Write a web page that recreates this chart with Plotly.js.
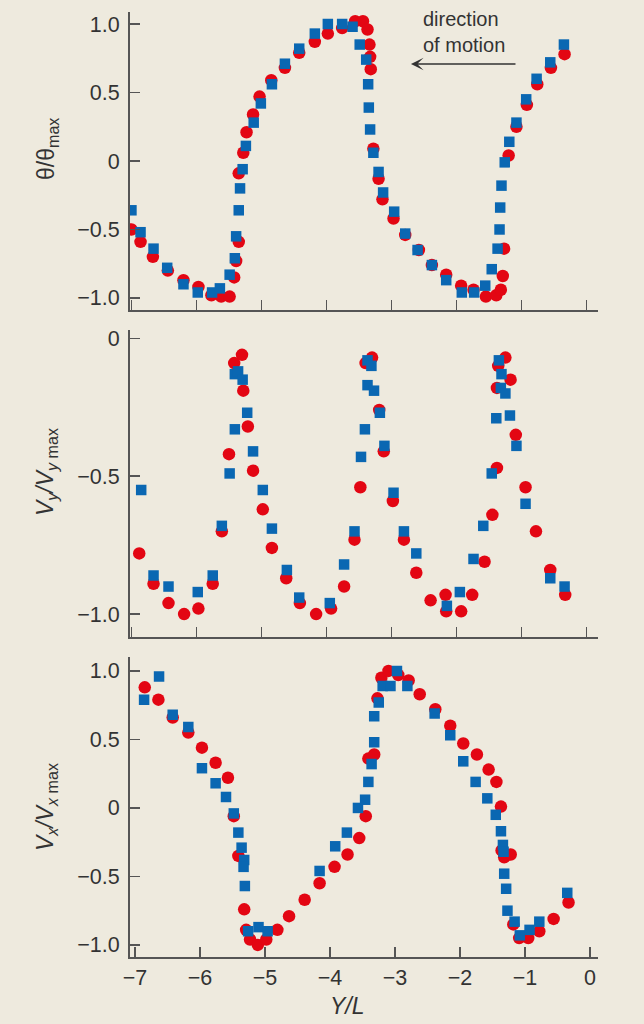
<!DOCTYPE html>
<html>
<head>
<meta charset="utf-8">
<script src="https://cdn.plot.ly/plotly-3.0.1.min.js"></script>
<style>html,body{margin:0;padding:0;background:#eeeade;}#chart{width:644px;height:1024px;}</style>
</head>
<body>
<div id="chart"></div>
<script>
// ---- Panel 1: theta / theta_max ----
var thetaRedX = [-7.0,-6.86,-6.67,-6.44,-6.20,-5.97,-5.77,-5.62,-5.49,-5.42,-5.39,-5.35,-5.35,-5.28,-5.23,-5.13,-5.03,-4.85,-4.64,-4.42,-4.18,-3.98,-3.76,-3.56,-3.44,-3.37,-3.34,-3.33,-3.32,-3.28,-3.20,-3.14,-2.97,-2.79,-2.58,-2.38,-2.16,-1.93,-1.74,-1.55,-1.39,-1.32,-1.29,-1.27,-1.20,-1.08,-0.92,-0.76,-0.55,-0.34];
var thetaRedY = [-0.50,-0.59,-0.70,-0.80,-0.87,-0.92,-0.98,-0.99,-0.99,-0.85,-0.73,-0.59,-0.09,0.06,0.21,0.34,0.47,0.59,0.68,0.79,0.87,0.93,0.97,1.02,1.02,0.96,0.85,0.76,0.67,0.09,-0.13,-0.28,-0.42,-0.54,-0.65,-0.76,-0.83,-0.91,-0.94,-0.99,-0.98,-0.94,-0.84,-0.64,0.04,0.25,0.41,0.56,0.68,0.78];
var thetaBlueX = [-7.0,-6.86,-6.66,-6.45,-6.20,-5.98,-5.76,-5.64,-5.49,-5.41,-5.39,-5.35,-5.33,-5.29,-5.24,-5.12,-5.01,-4.84,-4.64,-4.42,-4.18,-3.98,-3.76,-3.60,-3.49,-3.39,-3.36,-3.35,-3.33,-3.28,-3.20,-3.13,-2.96,-2.79,-2.60,-2.38,-2.16,-1.92,-1.73,-1.56,-1.46,-1.37,-1.34,-1.33,-1.31,-1.26,-1.19,-1.08,-0.93,-0.77,-0.56,-0.35];
var thetaBlueY = [-0.36,-0.52,-0.64,-0.78,-0.90,-0.96,-0.96,-0.93,-0.83,-0.71,-0.55,-0.36,-0.20,-0.06,0.11,0.28,0.42,0.56,0.71,0.82,0.93,1.00,1.00,0.98,0.85,0.74,0.56,0.39,0.23,0.06,-0.08,-0.23,-0.37,-0.53,-0.65,-0.76,-0.87,-0.96,-0.96,-0.91,-0.79,-0.64,-0.50,-0.34,-0.18,-0.01,0.14,0.28,0.45,0.60,0.72,0.85];

// ---- Panel 2: Vy / Vy_max ----
var vyRedX = [-6.88,-6.66,-6.43,-6.19,-5.97,-5.75,-5.61,-5.50,-5.42,-5.30,-5.28,-5.21,-5.13,-4.98,-4.84,-4.62,-4.41,-4.16,-3.93,-3.73,-3.57,-3.48,-3.40,-3.30,-3.19,-3.12,-2.98,-2.81,-2.62,-2.40,-2.17,-2.16,-1.93,-1.76,-1.57,-1.45,-1.38,-1.38,-1.36,-1.25,-1.17,-1.09,-0.94,-0.78,-0.56,-0.33];
var vyRedY = [-0.78,-0.89,-0.96,-1.00,-0.98,-0.89,-0.70,-0.42,-0.09,-0.06,-0.19,-0.32,-0.48,-0.62,-0.76,-0.87,-0.96,-1.00,-0.98,-0.90,-0.73,-0.54,-0.09,-0.07,-0.26,-0.41,-0.59,-0.73,-0.85,-0.95,-0.93,-0.99,-0.99,-0.93,-0.81,-0.64,-0.47,-0.18,-0.10,-0.07,-0.15,-0.35,-0.54,-0.70,-0.84,-0.93];
var vyBlueX = [-6.85,-6.66,-6.43,-5.98,-5.75,-5.61,-5.49,-5.41,-5.41,-5.36,-5.29,-5.22,-5.13,-4.98,-4.84,-4.61,-4.42,-3.95,-3.73,-3.57,-3.47,-3.41,-3.37,-3.37,-3.31,-3.27,-3.18,-3.11,-2.97,-2.81,-2.62,-2.15,-1.95,-1.74,-1.59,-1.46,-1.39,-1.35,-1.31,-1.32,-1.25,-1.18,-1.08,-0.94,-0.56,-0.34];
var vyBlueY = [-0.55,-0.86,-0.90,-0.92,-0.86,-0.68,-0.49,-0.33,-0.13,-0.12,-0.15,-0.27,-0.41,-0.55,-0.69,-0.84,-0.94,-0.96,-0.82,-0.70,-0.43,-0.33,-0.17,-0.08,-0.10,-0.19,-0.27,-0.39,-0.56,-0.70,-0.78,-0.97,-0.92,-0.80,-0.68,-0.49,-0.29,-0.08,-0.13,-0.18,-0.20,-0.28,-0.39,-0.60,-0.87,-0.90];

// ---- Panel 3: Vx / Vx_max ----
var vxRedX = [-6.85,-6.64,-6.42,-6.18,-5.97,-5.76,-5.57,-5.48,-5.41,-5.32,-5.29,-5.23,-5.11,-4.98,-4.81,-4.63,-4.39,-4.16,-3.93,-3.73,-3.55,-3.45,-3.41,-3.32,-3.27,-3.21,-3.10,-2.95,-2.79,-2.62,-2.38,-2.15,-1.95,-1.74,-1.56,-1.44,-1.37,-1.36,-1.32,-1.22,-1.18,-1.09,-0.95,-0.78,-0.56,-0.33];
var vxRedY = [0.88,0.79,0.66,0.55,0.44,0.33,0.22,-0.06,-0.35,-0.74,-0.89,-0.96,-1.00,-0.96,-0.89,-0.79,-0.67,-0.55,-0.43,-0.34,-0.22,-0.06,0.36,0.39,0.80,0.95,1.00,0.97,0.93,0.83,0.72,0.60,0.47,0.39,0.28,0.19,0.01,-0.31,-0.36,-0.34,-0.85,-0.95,-0.95,-0.90,-0.81,-0.69];
var vxBlueX = [-6.86,-6.63,-6.42,-6.18,-5.97,-5.76,-5.60,-5.48,-5.41,-5.36,-5.32,-5.33,-5.31,-5.26,-5.10,-4.96,-4.16,-3.92,-3.74,-3.57,-3.46,-3.41,-3.36,-3.32,-3.32,-3.25,-3.19,-3.07,-2.97,-2.81,-2.39,-2.15,-1.95,-1.76,-1.58,-1.45,-1.37,-1.34,-1.33,-1.32,-1.29,-1.27,-1.16,-1.08,-0.93,-0.78,-0.35];
var vxBlueY = [0.79,0.96,0.68,0.59,0.29,0.18,0.08,-0.04,-0.18,-0.29,-0.38,-0.43,-0.57,-0.90,-0.87,-0.90,-0.46,-0.28,-0.18,0.00,0.06,0.19,0.32,0.48,0.67,0.77,0.89,0.89,1.00,0.89,0.69,0.53,0.34,0.19,0.07,-0.05,-0.17,-0.27,-0.32,-0.48,-0.59,-0.75,-0.83,-0.93,-0.89,-0.83,-0.62];

// ---- Tick labels ----
var xTickVals = [-7,-6,-5,-4,-3,-2,-1,0];
var xTickText = ['\u22127','\u22126','\u22125','\u22124','\u22123','\u22122','\u22121','0'];
var yTickVals13 = [-1,-0.5,0,0.5,1];
var yTickText13 = ['\u22121.0','\u22120.5','0','0.5','1.0'];
var yTickVals2 = [-1,-0.5,0];
var yTickText2 = ['\u22121.0','\u22120.5','0'];

var RED = '#e30613', BLUE = '#0a67b2';
var FONT = 'Liberation Sans, Arial, Helvetica, sans-serif';
var TXT = '#333333', AX = '#555555';

function redTrace(x, y, xa, ya) {
  return {x: x, y: y, xaxis: xa, yaxis: ya, type: 'scatter', mode: 'markers',
    marker: {symbol: 'circle', size: 12.5, color: RED, line: {width: 0}}, hoverinfo: 'skip'};
}
function blueTrace(x, y, xa, ya) {
  return {x: x, y: y, xaxis: xa, yaxis: ya, type: 'scatter', mode: 'markers',
    marker: {symbol: 'square', size: 10.5, color: BLUE, line: {width: 0}}, hoverinfo: 'skip'};
}

var data = [
  redTrace(thetaRedX, thetaRedY, 'x', 'y'),
  blueTrace(thetaBlueX, thetaBlueY, 'x', 'y'),
  redTrace(vyRedX, vyRedY, 'x2', 'y2'),
  blueTrace(vyBlueX, vyBlueY, 'x2', 'y2'),
  redTrace(vxRedX, vxRedY, 'x3', 'y3'),
  blueTrace(vxBlueX, vxBlueY, 'x3', 'y3')
];

function xAxis(anchor, range, labels) {
  return {anchor: anchor, domain: [0, 1], range: range, tickmode: 'array', tickvals: xTickVals, ticktext: xTickText,
    showticklabels: labels, ticks: 'inside', ticklen: 10, tickwidth: 1.5, tickcolor: AX,
    showline: true, linecolor: AX, linewidth: 2, showgrid: false, zeroline: false,
    tickfont: {family: FONT, size: 21.5, color: TXT}, fixedrange: true};
}
function yAxis(anchor, domain, range, vals, text) {
  return {anchor: anchor, domain: domain, range: range, tickmode: 'array', tickvals: vals, ticktext: text,
    ticks: 'inside', ticklen: 10, tickwidth: 1.5, tickcolor: AX, ticklabelstandoff: 4,
    showline: true, linecolor: AX, linewidth: 2, showgrid: false, zeroline: false,
    tickfont: {family: FONT, size: 21.5, color: TXT}, fixedrange: true};
}

var titleFont = {family: FONT, size: 23, color: TXT};

var layout = {
  width: 644, height: 1024,
  margin: {l: 130, r: 46, t: 12, b: 67},
  paper_bgcolor: '#eeeade', plot_bgcolor: '#eeeade',
  showlegend: false,
  xaxis: xAxis('y', [-7.022, 0.174], false),
  xaxis2: xAxis('y2', [-7.022, 0.174], false),
  xaxis3: xAxis('y3', [-7.077, 0.123], true),
  yaxis: yAxis('x', [0.6847, 1.0], [-1.0876, 1.0876], yTickVals13, yTickText13),
  yaxis2: yAxis('x2', [0.3386, 0.6635], [-1.083, 0.030], yTickVals2, yTickText2),
  yaxis3: yAxis('x3', [0, 0.3178], [-1.088, 1.104], yTickVals13, yTickText13),
  annotations: [
    {xref: 'paper', yref: 'paper', x: -0.1774, y: 0.855, xanchor: 'center', yanchor: 'middle',
     textangle: -90, showarrow: false, text: '\u03b8/\u03b8<sub>max</sub>', font: titleFont},
    {xref: 'paper', yref: 'paper', x: -0.1795, y: 0.5132, xanchor: 'center', yanchor: 'middle',
     textangle: -90, showarrow: false, text: '<i>V</i><sub><i>y</i></sub><i>/V</i><sub><i>y</i> max</sub>', font: titleFont},
    {xref: 'paper', yref: 'paper', x: -0.1795, y: 0.1587, xanchor: 'center', yanchor: 'middle',
     textangle: -90, showarrow: false, text: '<i>V</i><sub><i>x</i></sub><i>/V</i><sub><i>x</i> max</sub>', font: titleFont},
    {xref: 'paper', yref: 'paper', x: 0.4637, y: -0.0519, xanchor: 'center', yanchor: 'middle',
     showarrow: false, text: '<i>Y/L</i>', font: titleFont},
    {xref: 'paper', yref: 'paper', x: 0.6218, y: 1.006, xanchor: 'left', yanchor: 'top', align: 'left',
     showarrow: false, text: 'direction<br>of motion', font: {family: FONT, size: 20, color: TXT}},
    {xref: 'paper', yref: 'paper', x: 0.6004, y: 0.945, ax: 106, ay: 0, text: '',
     showarrow: true, arrowhead: 3, arrowsize: 1.4, arrowwidth: 1.5, arrowcolor: '#333333'}
  ]
};

Plotly.newPlot('chart', data, layout, {displayModeBar: false, staticPlot: true});
</script>
</body>
</html>
